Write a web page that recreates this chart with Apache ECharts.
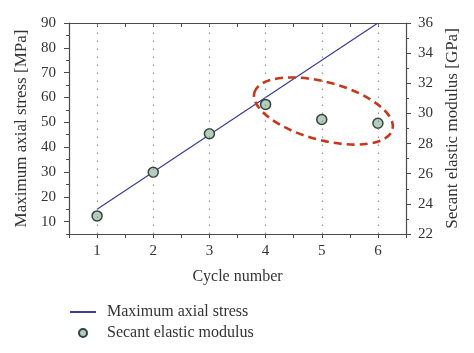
<!DOCTYPE html>
<html>
<head>
<meta charset="utf-8">
<script src="https://cdn.jsdelivr.net/npm/echarts@6/dist/echarts.min.js"></script>
<style>
  html, body { margin: 0; padding: 0; background: #fff; }
  #chart { width: 474px; height: 353px; }
</style>
</head>
<body>
<div id="chart"></div>
<script>
const cycles = [1, 2, 3, 4, 5, 6]
const axialStress = [15, 30, 45, 60, 75, 90]
const secantModulus = [23.2, 26.1, 28.65, 30.6, 29.6, 29.35]
const stressTicks = [10, 20, 30, 40, 50, 60, 70, 80, 90]
// centre of the dashed highlight ellipse (cycle, GPa)
const highlightCentre = [5.03, 30.16]

const serif = 'Liberation Serif'
const axisColor = '#4a4a4a'
const textColor = '#333'

const chart = echarts.init(document.getElementById('chart'))

const xCommon = {
  type: 'value',
  min: 0.5,
  max: 6.5,
  interval: 0.5,
  axisLine: { lineStyle: { color: axisColor, width: 1.2 } },
  splitLine: { show: false }
}

chart.setOption({
  animation: false,
  grid: { left: 69, right: 68, top: 23, bottom: 119 },
  legend: {
    orient: 'vertical',
    left: 69,
    top: 304,
    padding: 0,
    itemWidth: 26,
    itemHeight: 8,
    itemGap: 5,
    data: [
      { name: 'Maximum axial stress', itemStyle: { opacity: 0 } },
      { name: 'Secant elastic modulus', icon: 'circle' }
    ],
    textStyle: { fontFamily: serif, fontSize: 16, color: textColor, padding: [0, 0, 0, 6] }
  },
  xAxis: [
    {
      ...xCommon,
      position: 'bottom',
      name: 'Cycle number',
      nameLocation: 'middle',
      nameGap: 35,
      nameTextStyle: { fontFamily: serif, fontSize: 16, color: textColor },
      axisTick: { inside: false, length: 4, lineStyle: { color: axisColor } },
      axisLabel: {
        margin: 10,
        fontFamily: serif,
        fontSize: 15,
        color: textColor,
        formatter: v => (Number.isInteger(v) ? String(v) : '')
      }
    },
    {
      ...xCommon,
      position: 'top',
      axisTick: { inside: true, length: 4, lineStyle: { color: axisColor } },
      axisLabel: { show: false }
    }
  ],
  yAxis: [
    {
      type: 'value',
      position: 'left',
      min: 5,
      max: 90,
      name: 'Maximum axial stress [MPa]',
      nameLocation: 'middle',
      nameRotate: 90,
      nameGap: 36,
      nameTextStyle: { fontFamily: serif, fontSize: 17, color: textColor },
      axisLine: { show: true, lineStyle: { color: axisColor, width: 1.2 } },
      axisTick: { show: true, length: 5, customValues: stressTicks, lineStyle: { color: axisColor } },
      axisLabel: { margin: 13, fontFamily: serif, fontSize: 15, color: textColor, customValues: stressTicks },
      splitLine: { show: false }
    },
    {
      type: 'value',
      position: 'right',
      min: 22,
      max: 36,
      interval: 2,
      name: 'Secant elastic modulus [GPa]',
      nameLocation: 'middle',
      nameRotate: 90,
      nameGap: 36,
      nameTextStyle: { fontFamily: serif, fontSize: 17, color: textColor },
      axisLine: { show: true, lineStyle: { color: axisColor, width: 1.2 } },
      axisTick: { show: true, length: 5, lineStyle: { color: axisColor } },
      minorTick: { show: true, splitNumber: 2, length: 3, lineStyle: { color: axisColor } },
      axisLabel: { margin: 12, fontFamily: serif, fontSize: 15, color: textColor },
      splitLine: { show: false }
    },
    {
      // minor ticks of the stress axis
      type: 'value',
      position: 'left',
      min: 5,
      max: 90,
      interval: 5,
      axisLine: { show: false },
      axisTick: { show: true, length: 3, lineStyle: { color: axisColor } },
      axisLabel: { show: false },
      splitLine: { show: false }
    }
  ],
  series: [
    {
      name: 'Maximum axial stress',
      type: 'line',
      xAxisIndex: 0,
      yAxisIndex: 0,
      data: cycles.map((c, i) => [c, axialStress[i]]),
      symbol: 'none',
      lineStyle: { color: '#3c3c94', width: 1.2 },
      itemStyle: { color: '#3c3c94' },
      z: 3,
      markLine: {
        silent: true,
        symbol: 'none',
        label: { show: false },
        lineStyle: { color: '#8f8f8f', type: [1.5, 6.5], width: 1.2 },
        data: cycles.map(c => ({ xAxis: c }))
      }
    },
    {
      name: 'Secant elastic modulus',
      type: 'scatter',
      xAxisIndex: 0,
      yAxisIndex: 1,
      data: cycles.map((c, i) => [c, secantModulus[i]]),
      symbolSize: 10,
      itemStyle: { color: '#b4cdbf', borderColor: '#34443d', borderWidth: 1.5, opacity: 1 },
      z: 4
    },
    {
      type: 'custom',
      xAxisIndex: 0,
      yAxisIndex: 1,
      silent: true,
      data: [highlightCentre],
      encode: { x: 0, y: 1 },
      renderItem: (params, api) => {
        const p = api.coord([api.value(0), api.value(1)])
        return {
          type: 'ellipse',
          x: p[0],
          y: p[1],
          rotation: -15 * Math.PI / 180,
          shape: { cx: 0, cy: 0, rx: 71.5, ry: 29 },
          style: { fill: 'none', stroke: '#c8361c', lineWidth: 2.6, lineDash: [8, 5] }
        }
      },
      z: 5
    }
  ]
})
</script>
</body>
</html>
